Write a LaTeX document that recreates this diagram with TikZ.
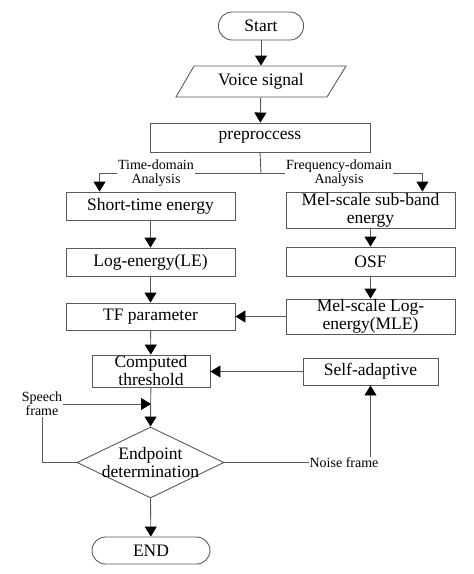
\documentclass[tikz,border=0pt]{standalone}
\usepackage{fontspec}
\setmainfont{Liberation Serif}
\usetikzlibrary{arrows.meta,shapes.geometric}
\begin{document}
\begin{tikzpicture}[x=1pt,y=-1pt,
  line width=0.9pt,
  box/.style={draw=black!65, inner sep=0pt, align=center, font=\fontsize{17.5}{18}\selectfont},
  term/.style={box, rounded corners=13.5pt},
  lbl/.style={fill=white, inner sep=1pt, align=center, font=\fontsize{14}{14}\selectfont},
  arr/.style={draw=black!65, -{Triangle[width=12pt,length=10pt,black]}},
  ln/.style={draw=black!65}
]
\useasboundingbox (0,0) rectangle (474,574);
\node[term, minimum width=85, minimum height=28] (start) at (261,26) {Start};
\node[inner sep=0pt, minimum width=150, minimum height=31, font=\fontsize{17.5}{18}\selectfont] (voice) at (261,81.5) {Voice signal};
\draw[black!65] (176,97) -- (194,66) -- (346,66) -- (327,97) -- cycle;
\node[box, minimum width=220, minimum height=29] (prep) at (260,137.5) {preproccess};
\node[box, minimum width=169, minimum height=28] (short) at (150.5,206) {Short-time energy};
\node[box, minimum width=169, minimum height=36] (mel) at (370.5,210) {Mel-scale sub-band\\energy};
\node[box, minimum width=169, minimum height=28] (le) at (150.5,262) {Log-energy(LE)};
\node[box, minimum width=169, minimum height=29] (osf) at (370.5,261.5) {OSF};
\node[box, minimum width=169, minimum height=27] (tf) at (150.5,316.5) {TF parameter};
\node[box, minimum width=169, minimum height=35] (mle) at (370.5,316.5) {Mel-scale Log-\\energy(MLE)};
\node[box, minimum width=118, minimum height=32] (comp) at (151,371) {Computed\\threshold};
\node[box, minimum width=135, minimum height=27] (self) at (370.5,371.5) {Self-adaptive};
\node[diamond, draw=black!65, inner sep=0pt, minimum width=147, minimum height=71] (dia) at (150.5,462.5) {};
\node[align=center, inner sep=0pt, font=\fontsize{17.5}{18}\selectfont] (diatext) at (dia.center) {Endpoint\\determination};
\node[term, minimum width=118, minimum height=27] (end) at (151,550.5) {END};

\draw[arr] (start) -- (voice);
\draw[arr] (voice) -- (prep);
\coordinate (split) at (261,173);
\draw[ln] (prep.south) -- (split);
\draw[arr] (split) -| ([xshift=34pt]short.north west);
\draw[arr] (split) -| ([xshift=-33pt]mel.north east);
\node[lbl] (tdl) at (156,173) {Time-domain\\Analysis};
\node[lbl] (fdl) at (339,173) {Frequency-domain\\Analysis};
\draw[arr] (short) -- (le);
\draw[arr] (le) -- (tf);
\draw[arr] (mel) -- (osf);
\draw[arr] (osf) -- (mle);
\draw[arr] (mle) -- (tf);
\draw[arr] (tf) -- (comp);
\draw[arr] (self.west) -- (self.west -| comp.east);
\draw[arr] (comp) -- (dia.north);
\coordinate (sp) at (42,404);
\draw[arr] (dia.west) -| (sp) -- (sp -| comp.south);
\node[lbl] (spl) at (sp) {Speech\\frame};
\coordinate (nf) at (370.5,462.5);
\draw[arr] (dia.east) -- (nf) -- (self.south);
\node[lbl] (nfl) at (344,462.5) {Noise frame};
\draw[arr] (dia.south) -- (end);
\end{tikzpicture}
\end{document}
